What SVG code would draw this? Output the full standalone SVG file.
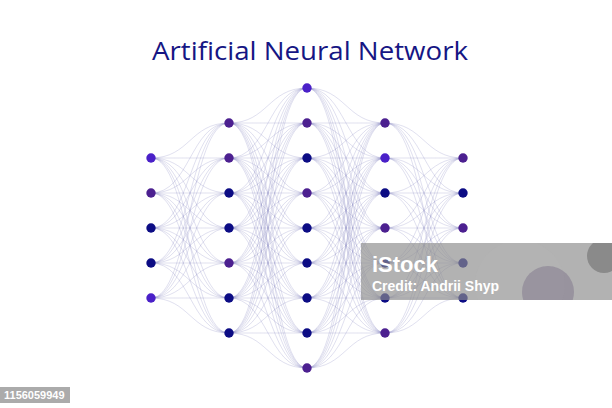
<svg xmlns="http://www.w3.org/2000/svg" width="612" height="408" viewBox="0 0 612 408">
<style>
.e path{fill:none;stroke:#6a6ab4;stroke-width:0.55;stroke-opacity:0.38}
.v{fill:#4a20c8}
.p{fill:#4c2090}
.n{fill:#0c0c84}
.t{font-family:"Open Sans","Noto Sans","Liberation Sans",sans-serif;fill:#161684;font-size:26px}
.w{font-family:"Liberation Sans",Arial,sans-serif;font-weight:bold;fill:#ffffff}
</style>
<rect width="612" height="408" fill="#ffffff"/>
<text class="t" x="310" y="60" text-anchor="middle" textLength="316" lengthAdjust="spacingAndGlyphs">Artificial Neural Network</text>
<g id="connectors" class="e">
<path d="M151 158c39 0 39 -35 78 -35"/><path d="M151 158c39 0 39 0 78 0"/><path d="M151 158c39 0 39 35 78 35"/><path d="M151 158c39 0 39 70 78 70"/><path d="M151 158c39 0 39 105 78 105"/><path d="M151 158c39 0 39 140 78 140"/><path d="M151 158c39 0 39 175 78 175"/>
<path d="M151 193c39 0 39 -70 78 -70"/><path d="M151 193c39 0 39 -35 78 -35"/><path d="M151 193c39 0 39 0 78 0"/><path d="M151 193c39 0 39 35 78 35"/><path d="M151 193c39 0 39 70 78 70"/><path d="M151 193c39 0 39 105 78 105"/><path d="M151 193c39 0 39 140 78 140"/>
<path d="M151 228c39 0 39 -105 78 -105"/><path d="M151 228c39 0 39 -70 78 -70"/><path d="M151 228c39 0 39 -35 78 -35"/><path d="M151 228c39 0 39 0 78 0"/><path d="M151 228c39 0 39 35 78 35"/><path d="M151 228c39 0 39 70 78 70"/><path d="M151 228c39 0 39 105 78 105"/>
<path d="M151 263c39 0 39 -140 78 -140"/><path d="M151 263c39 0 39 -105 78 -105"/><path d="M151 263c39 0 39 -70 78 -70"/><path d="M151 263c39 0 39 -35 78 -35"/><path d="M151 263c39 0 39 0 78 0"/><path d="M151 263c39 0 39 35 78 35"/><path d="M151 263c39 0 39 70 78 70"/>
<path d="M151 298c39 0 39 -175 78 -175"/><path d="M151 298c39 0 39 -140 78 -140"/><path d="M151 298c39 0 39 -105 78 -105"/><path d="M151 298c39 0 39 -70 78 -70"/><path d="M151 298c39 0 39 -35 78 -35"/><path d="M151 298c39 0 39 0 78 0"/><path d="M151 298c39 0 39 35 78 35"/>

<path d="M229 123c39 0 39 -35 78 -35"/><path d="M229 123c39 0 39 0 78 0"/><path d="M229 123c39 0 39 35 78 35"/><path d="M229 123c39 0 39 70 78 70"/><path d="M229 123c39 0 39 105 78 105"/><path d="M229 123c39 0 39 140 78 140"/><path d="M229 123c39 0 39 175 78 175"/><path d="M229 123c39 0 39 210 78 210"/><path d="M229 123c39 0 39 245 78 245"/>
<path d="M229 158c39 0 39 -70 78 -70"/><path d="M229 158c39 0 39 -35 78 -35"/><path d="M229 158c39 0 39 0 78 0"/><path d="M229 158c39 0 39 35 78 35"/><path d="M229 158c39 0 39 70 78 70"/><path d="M229 158c39 0 39 105 78 105"/><path d="M229 158c39 0 39 140 78 140"/><path d="M229 158c39 0 39 175 78 175"/><path d="M229 158c39 0 39 210 78 210"/>
<path d="M229 193c39 0 39 -105 78 -105"/><path d="M229 193c39 0 39 -70 78 -70"/><path d="M229 193c39 0 39 -35 78 -35"/><path d="M229 193c39 0 39 0 78 0"/><path d="M229 193c39 0 39 35 78 35"/><path d="M229 193c39 0 39 70 78 70"/><path d="M229 193c39 0 39 105 78 105"/><path d="M229 193c39 0 39 140 78 140"/><path d="M229 193c39 0 39 175 78 175"/>
<path d="M229 228c39 0 39 -140 78 -140"/><path d="M229 228c39 0 39 -105 78 -105"/><path d="M229 228c39 0 39 -70 78 -70"/><path d="M229 228c39 0 39 -35 78 -35"/><path d="M229 228c39 0 39 0 78 0"/><path d="M229 228c39 0 39 35 78 35"/><path d="M229 228c39 0 39 70 78 70"/><path d="M229 228c39 0 39 105 78 105"/><path d="M229 228c39 0 39 140 78 140"/>
<path d="M229 263c39 0 39 -175 78 -175"/><path d="M229 263c39 0 39 -140 78 -140"/><path d="M229 263c39 0 39 -105 78 -105"/><path d="M229 263c39 0 39 -70 78 -70"/><path d="M229 263c39 0 39 -35 78 -35"/><path d="M229 263c39 0 39 0 78 0"/><path d="M229 263c39 0 39 35 78 35"/><path d="M229 263c39 0 39 70 78 70"/><path d="M229 263c39 0 39 105 78 105"/>
<path d="M229 298c39 0 39 -210 78 -210"/><path d="M229 298c39 0 39 -175 78 -175"/><path d="M229 298c39 0 39 -140 78 -140"/><path d="M229 298c39 0 39 -105 78 -105"/><path d="M229 298c39 0 39 -70 78 -70"/><path d="M229 298c39 0 39 -35 78 -35"/><path d="M229 298c39 0 39 0 78 0"/><path d="M229 298c39 0 39 35 78 35"/><path d="M229 298c39 0 39 70 78 70"/>
<path d="M229 333c39 0 39 -245 78 -245"/><path d="M229 333c39 0 39 -210 78 -210"/><path d="M229 333c39 0 39 -175 78 -175"/><path d="M229 333c39 0 39 -140 78 -140"/><path d="M229 333c39 0 39 -105 78 -105"/><path d="M229 333c39 0 39 -70 78 -70"/><path d="M229 333c39 0 39 -35 78 -35"/><path d="M229 333c39 0 39 0 78 0"/><path d="M229 333c39 0 39 35 78 35"/>

<path d="M307 88c39 0 39 35 78 35"/><path d="M307 88c39 0 39 70 78 70"/><path d="M307 88c39 0 39 105 78 105"/><path d="M307 88c39 0 39 140 78 140"/><path d="M307 88c39 0 39 175 78 175"/><path d="M307 88c39 0 39 210 78 210"/><path d="M307 88c39 0 39 245 78 245"/>
<path d="M307 123c39 0 39 0 78 0"/><path d="M307 123c39 0 39 35 78 35"/><path d="M307 123c39 0 39 70 78 70"/><path d="M307 123c39 0 39 105 78 105"/><path d="M307 123c39 0 39 140 78 140"/><path d="M307 123c39 0 39 175 78 175"/><path d="M307 123c39 0 39 210 78 210"/>
<path d="M307 158c39 0 39 -35 78 -35"/><path d="M307 158c39 0 39 0 78 0"/><path d="M307 158c39 0 39 35 78 35"/><path d="M307 158c39 0 39 70 78 70"/><path d="M307 158c39 0 39 105 78 105"/><path d="M307 158c39 0 39 140 78 140"/><path d="M307 158c39 0 39 175 78 175"/>
<path d="M307 193c39 0 39 -70 78 -70"/><path d="M307 193c39 0 39 -35 78 -35"/><path d="M307 193c39 0 39 0 78 0"/><path d="M307 193c39 0 39 35 78 35"/><path d="M307 193c39 0 39 70 78 70"/><path d="M307 193c39 0 39 105 78 105"/><path d="M307 193c39 0 39 140 78 140"/>
<path d="M307 228c39 0 39 -105 78 -105"/><path d="M307 228c39 0 39 -70 78 -70"/><path d="M307 228c39 0 39 -35 78 -35"/><path d="M307 228c39 0 39 0 78 0"/><path d="M307 228c39 0 39 35 78 35"/><path d="M307 228c39 0 39 70 78 70"/><path d="M307 228c39 0 39 105 78 105"/>
<path d="M307 263c39 0 39 -140 78 -140"/><path d="M307 263c39 0 39 -105 78 -105"/><path d="M307 263c39 0 39 -70 78 -70"/><path d="M307 263c39 0 39 -35 78 -35"/><path d="M307 263c39 0 39 0 78 0"/><path d="M307 263c39 0 39 35 78 35"/><path d="M307 263c39 0 39 70 78 70"/>
<path d="M307 298c39 0 39 -175 78 -175"/><path d="M307 298c39 0 39 -140 78 -140"/><path d="M307 298c39 0 39 -105 78 -105"/><path d="M307 298c39 0 39 -70 78 -70"/><path d="M307 298c39 0 39 -35 78 -35"/><path d="M307 298c39 0 39 0 78 0"/><path d="M307 298c39 0 39 35 78 35"/>
<path d="M307 333c39 0 39 -210 78 -210"/><path d="M307 333c39 0 39 -175 78 -175"/><path d="M307 333c39 0 39 -140 78 -140"/><path d="M307 333c39 0 39 -105 78 -105"/><path d="M307 333c39 0 39 -70 78 -70"/><path d="M307 333c39 0 39 -35 78 -35"/><path d="M307 333c39 0 39 0 78 0"/>
<path d="M307 368c39 0 39 -245 78 -245"/><path d="M307 368c39 0 39 -210 78 -210"/><path d="M307 368c39 0 39 -175 78 -175"/><path d="M307 368c39 0 39 -140 78 -140"/><path d="M307 368c39 0 39 -105 78 -105"/><path d="M307 368c39 0 39 -70 78 -70"/><path d="M307 368c39 0 39 -35 78 -35"/>

<path d="M385 123c39 0 39 35 78 35"/><path d="M385 123c39 0 39 70 78 70"/><path d="M385 123c39 0 39 105 78 105"/><path d="M385 123c39 0 39 140 78 140"/><path d="M385 123c39 0 39 175 78 175"/>
<path d="M385 158c39 0 39 0 78 0"/><path d="M385 158c39 0 39 35 78 35"/><path d="M385 158c39 0 39 70 78 70"/><path d="M385 158c39 0 39 105 78 105"/><path d="M385 158c39 0 39 140 78 140"/>
<path d="M385 193c39 0 39 -35 78 -35"/><path d="M385 193c39 0 39 0 78 0"/><path d="M385 193c39 0 39 35 78 35"/><path d="M385 193c39 0 39 70 78 70"/><path d="M385 193c39 0 39 105 78 105"/>
<path d="M385 228c39 0 39 -70 78 -70"/><path d="M385 228c39 0 39 -35 78 -35"/><path d="M385 228c39 0 39 0 78 0"/><path d="M385 228c39 0 39 35 78 35"/><path d="M385 228c39 0 39 70 78 70"/>
<path d="M385 263c39 0 39 -105 78 -105"/><path d="M385 263c39 0 39 -70 78 -70"/><path d="M385 263c39 0 39 -35 78 -35"/><path d="M385 263c39 0 39 0 78 0"/><path d="M385 263c39 0 39 35 78 35"/>
<path d="M385 298c39 0 39 -140 78 -140"/><path d="M385 298c39 0 39 -105 78 -105"/><path d="M385 298c39 0 39 -70 78 -70"/><path d="M385 298c39 0 39 -35 78 -35"/><path d="M385 298c39 0 39 0 78 0"/>
<path d="M385 333c39 0 39 -175 78 -175"/><path d="M385 333c39 0 39 -140 78 -140"/><path d="M385 333c39 0 39 -105 78 -105"/><path d="M385 333c39 0 39 -70 78 -70"/><path d="M385 333c39 0 39 -35 78 -35"/>
</g>
<g id="layer1">
<circle id="a1" class="v" cx="151" cy="158" r="4.7"/>
<circle id="a2" class="p" cx="151" cy="193" r="4.7"/>
<circle id="a3" class="n" cx="151" cy="228" r="4.7"/>
<circle id="a4" class="n" cx="151" cy="263" r="4.7"/>
<circle id="a5" class="v" cx="151" cy="298" r="4.7"/>
</g>
<g id="layer2">
<circle id="b1" class="p" cx="229" cy="123" r="4.7"/>
<circle id="b2" class="p" cx="229" cy="158" r="4.7"/>
<circle id="b3" class="n" cx="229" cy="193" r="4.7"/>
<circle id="b4" class="n" cx="229" cy="228" r="4.7"/>
<circle id="b5" class="p" cx="229" cy="263" r="4.7"/>
<circle id="b6" class="n" cx="229" cy="298" r="4.7"/>
<circle id="b7" class="n" cx="229" cy="333" r="4.7"/>
</g>
<g id="layer3">
<circle id="c1" class="v" cx="307" cy="88" r="4.7"/>
<circle id="c2" class="p" cx="307" cy="123" r="4.7"/>
<circle id="c3" class="n" cx="307" cy="158" r="4.7"/>
<circle id="c4" class="p" cx="307" cy="193" r="4.7"/>
<circle id="c5" class="n" cx="307" cy="228" r="4.7"/>
<circle id="c6" class="n" cx="307" cy="263" r="4.7"/>
<circle id="c7" class="n" cx="307" cy="298" r="4.7"/>
<circle id="c8" class="n" cx="307" cy="333" r="4.7"/>
<circle id="c9" class="p" cx="307" cy="368" r="4.7"/>
</g>
<g id="layer4">
<circle id="d1" class="p" cx="385" cy="123" r="4.7"/>
<circle id="d2" class="v" cx="385" cy="158" r="4.7"/>
<circle id="d3" class="n" cx="385" cy="193" r="4.7"/>
<circle id="d4" class="p" cx="385" cy="228" r="4.7"/>
<circle id="d5" class="n" cx="385" cy="263" r="4.7"/>
<circle id="d6" class="n" cx="385" cy="298" r="4.7"/>
<circle id="d7" class="p" cx="385" cy="333" r="4.7"/>
</g>
<g id="layer5">
<circle id="e1" class="p" cx="463" cy="158" r="4.7"/>
<circle id="e2" class="n" cx="463" cy="193" r="4.7"/>
<circle id="e3" class="p" cx="463" cy="228" r="4.7"/>
<circle id="e4" class="n" cx="463" cy="263" r="4.7"/>
<circle id="e5" class="n" cx="463" cy="298" r="4.7"/>
</g>
<g id="watermark">
<clipPath id="wc"><rect x="361" y="243" width="251" height="57"/></clipPath>
<rect x="361" y="243" width="251" height="57" fill="#8e8e8e" fill-opacity="0.68"/>
<g clip-path="url(#wc)">
<circle cx="520" cy="285" r="45" fill="#b4b4b4" fill-opacity="0.45"/>
<circle cx="548" cy="292" r="26" fill="#5c4c72" fill-opacity="0.3"/>
<circle cx="604" cy="256" r="17" fill="#6a6a6a" fill-opacity="0.55"/>
</g>
<text class="w" x="372" y="272" font-size="22">iStock</text>
<text class="w" x="372" y="291" font-size="14">Credit: Andrii Shyp</text>
</g>
<g id="imageid">
<rect x="0" y="387" width="70" height="16" fill="#ababab"/>
<text class="w" x="4" y="399" font-size="11">1156059949</text>
</g>
</svg>
